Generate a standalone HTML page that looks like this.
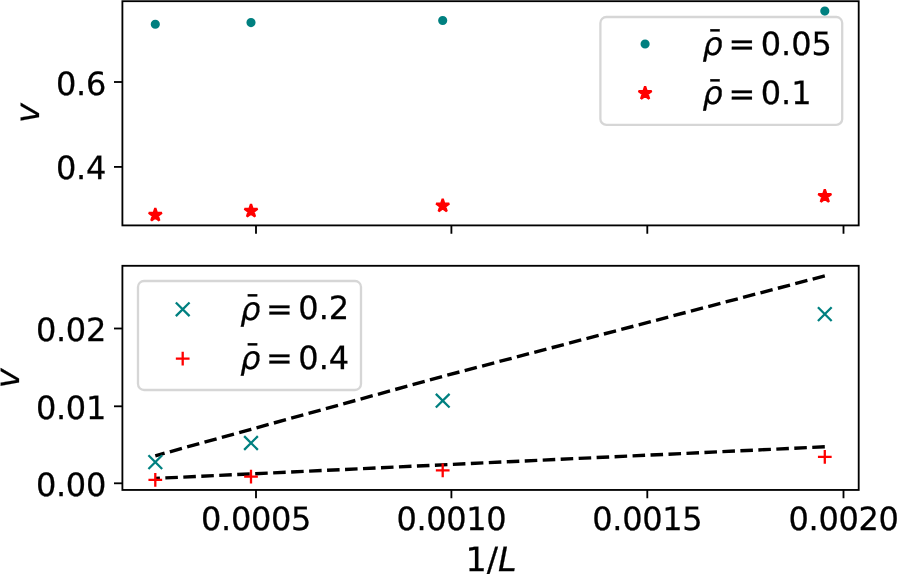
<!DOCTYPE html>
<html><head><meta charset="utf-8"><title>plot</title><style>html,body{margin:0;padding:0;background:#fff}svg{display:block}</style></head><body>
<svg width="897" height="574" viewBox="0 0 897 574" font-family="'DejaVu Sans', 'Liberation Sans', sans-serif" fill="#000"><style>text{stroke:#000;stroke-width:0.25px;text-rendering:geometricPrecision}</style>
<rect x="0" y="0" width="897" height="574" fill="#fff"/>
<circle cx="155.30" cy="24.20" r="3.43" fill="#008080" stroke="#008080" stroke-width="2.29"/>
<circle cx="251.00" cy="22.60" r="3.43" fill="#008080" stroke="#008080" stroke-width="2.29"/>
<circle cx="442.70" cy="20.50" r="3.43" fill="#008080" stroke="#008080" stroke-width="2.29"/>
<circle cx="824.80" cy="11.10" r="3.43" fill="#008080" stroke="#008080" stroke-width="2.29"/>
<polygon points="155.30,208.14 153.76,212.88 148.78,212.88 152.81,215.81 151.27,220.55 155.30,217.62 159.33,220.55 157.79,215.81 161.82,212.88 156.84,212.88" fill="#ff0000" stroke="#ff0000" stroke-width="2.29" stroke-linejoin="bevel"/>
<polygon points="251.00,204.14 249.46,208.88 244.48,208.88 248.51,211.81 246.97,216.55 251.00,213.62 255.03,216.55 253.49,211.81 257.52,208.88 252.54,208.88" fill="#ff0000" stroke="#ff0000" stroke-width="2.29" stroke-linejoin="bevel"/>
<polygon points="442.70,198.94 441.16,203.68 436.18,203.68 440.21,206.61 438.67,211.35 442.70,208.42 446.73,211.35 445.19,206.61 449.22,203.68 444.24,203.68" fill="#ff0000" stroke="#ff0000" stroke-width="2.29" stroke-linejoin="bevel"/>
<polygon points="824.80,189.44 823.26,194.18 818.28,194.18 822.31,197.11 820.77,201.85 824.80,198.92 828.83,201.85 827.29,197.11 831.32,194.18 826.34,194.18" fill="#ff0000" stroke="#ff0000" stroke-width="2.29" stroke-linejoin="bevel"/>
<path d="M824.80 275.9L442.70 376.4L251.00 429.3L155.30 455.8" stroke="#000" stroke-width="3.40" stroke-dasharray="12.56 5.43" fill="none"/>
<path d="M824.80 446.8L155.30 478.4" stroke="#000" stroke-width="3.40" stroke-dasharray="12.56 5.43" fill="none"/>
<path d="M148.44 455.24L162.16 468.96M148.44 468.96L162.16 455.24" stroke="#008080" stroke-width="2.29" fill="none"/>
<path d="M244.14 436.14L257.86 449.86M244.14 449.86L257.86 436.14" stroke="#008080" stroke-width="2.29" fill="none"/>
<path d="M435.84 393.84L449.56 407.56M435.84 407.56L449.56 393.84" stroke="#008080" stroke-width="2.29" fill="none"/>
<path d="M817.94 307.24L831.66 320.96M817.94 320.96L831.66 307.24" stroke="#008080" stroke-width="2.29" fill="none"/>
<path d="M148.44 479.80H162.16M155.30 472.94V486.66" stroke="#ff0000" stroke-width="2.29" fill="none"/>
<path d="M244.14 476.70H257.86M251.00 469.84V483.56" stroke="#ff0000" stroke-width="2.29" fill="none"/>
<path d="M435.84 470.30H449.56M442.70 463.44V477.16" stroke="#ff0000" stroke-width="2.29" fill="none"/>
<path d="M817.94 456.80H831.66M824.80 449.94V463.66" stroke="#ff0000" stroke-width="2.29" fill="none"/>
<rect x="122.4" y="1.2" width="736.30" height="224.20" fill="none" stroke="#000" stroke-width="1.83"/>
<rect x="122.4" y="265.8" width="736.30" height="224.15" fill="none" stroke="#000" stroke-width="1.83"/>
<path d="M256.00 225.4v8.40M256.00 489.95v8.40" stroke="#000" stroke-width="1.83"/>
<path d="M451.40 225.4v8.40M451.40 489.95v8.40" stroke="#000" stroke-width="1.83"/>
<path d="M647.30 225.4v8.40M647.30 489.95v8.40" stroke="#000" stroke-width="1.83"/>
<path d="M843.50 225.4v8.40M843.50 489.95v8.40" stroke="#000" stroke-width="1.83"/>
<text transform="translate(256.00,529.9) scale(1,1.0)" font-size="32.0" letter-spacing="-0.35" text-anchor="middle">0.0005</text>
<text transform="translate(451.40,529.9) scale(1,1.0)" font-size="32.0" letter-spacing="-0.35" text-anchor="middle">0.0010</text>
<text transform="translate(647.30,529.9) scale(1,1.0)" font-size="32.0" letter-spacing="-0.35" text-anchor="middle">0.0015</text>
<text transform="translate(843.50,529.9) scale(1,1.0)" font-size="32.0" letter-spacing="-0.35" text-anchor="middle">0.0020</text>
<path d="M122.4 82.0h-8.40" stroke="#000" stroke-width="1.83"/>
<text transform="translate(105.9,94.50) scale(1,1.0)" font-size="32.0" letter-spacing="-0.35" text-anchor="end">0.6</text>
<path d="M122.4 166.9h-8.40" stroke="#000" stroke-width="1.83"/>
<text transform="translate(105.9,179.40) scale(1,1.0)" font-size="32.0" letter-spacing="-0.35" text-anchor="end">0.4</text>
<path d="M122.4 483.3h-8.40" stroke="#000" stroke-width="1.83"/>
<text transform="translate(105.9,495.80) scale(1,1.0)" font-size="32.0" letter-spacing="-0.35" text-anchor="end">0.00</text>
<path d="M122.4 406.3h-8.40" stroke="#000" stroke-width="1.83"/>
<text transform="translate(105.9,418.80) scale(1,1.0)" font-size="32.0" letter-spacing="-0.35" text-anchor="end">0.01</text>
<path d="M122.4 328.5h-8.40" stroke="#000" stroke-width="1.83"/>
<text transform="translate(105.9,341.00) scale(1,1.0)" font-size="32.0" letter-spacing="-0.35" text-anchor="end">0.02</text>
<text x="491.0" y="571.0" font-size="33.4" text-anchor="middle">1/<tspan font-style="italic">L</tspan></text>
<text transform="translate(39.3,113.2) rotate(-90)" font-size="33.4" font-style="italic" text-anchor="middle">v</text>
<text transform="translate(19.1,378.3) rotate(-90)" font-size="33.4" font-style="italic" text-anchor="middle">v</text>
<rect x="600.4" y="17.0" width="241.80" height="107.90" rx="6" ry="6" fill="#fff" fill-opacity="0.8" stroke="#ccc" stroke-opacity="0.8" stroke-width="2.29"/>
<circle cx="645.10" cy="44.00" r="3.43" fill="#008080" stroke="#008080" stroke-width="2.29"/>
<text font-size="32.0"><tspan x="702.60" y="54.90" font-style="italic">ρ</tspan><tspan x="706.90" y="53.30">¯</tspan><tspan x="728.40" y="55.10">=</tspan></text><text transform="translate(760.70,54.80) scale(1,1.0)" font-size="32.0">0.05</text>
<polygon points="645.10,86.44 643.56,91.18 638.58,91.18 642.61,94.11 641.07,98.85 645.10,95.92 649.13,98.85 647.59,94.11 651.62,91.18 646.64,91.18" fill="#ff0000" stroke="#ff0000" stroke-width="2.29" stroke-linejoin="bevel"/>
<text font-size="32.0"><tspan x="702.60" y="104.30" font-style="italic">ρ</tspan><tspan x="706.90" y="102.70">¯</tspan><tspan x="728.40" y="104.50">=</tspan></text><text transform="translate(760.70,104.20) scale(1,1.0)" font-size="32.0">0.1</text>
<rect x="138.0" y="281.0" width="223.00" height="109.00" rx="6" ry="6" fill="#fff" fill-opacity="0.8" stroke="#ccc" stroke-opacity="0.8" stroke-width="2.29"/>
<path d="M175.84 302.44L189.56 316.16M175.84 316.16L189.56 302.44" stroke="#008080" stroke-width="2.29" fill="none"/>
<text font-size="32.0"><tspan x="240.20" y="319.50" font-style="italic">ρ</tspan><tspan x="244.50" y="317.90">¯</tspan><tspan x="266.00" y="319.70">=</tspan></text><text transform="translate(298.30,319.40) scale(1,1.0)" font-size="32.0">0.2</text>
<path d="M175.84 358.70H189.56M182.70 351.84V365.56" stroke="#ff0000" stroke-width="2.29" fill="none"/>
<text font-size="32.0"><tspan x="240.20" y="369.00" font-style="italic">ρ</tspan><tspan x="244.50" y="367.40">¯</tspan><tspan x="266.00" y="369.20">=</tspan></text><text transform="translate(298.30,368.90) scale(1,1.0)" font-size="32.0">0.4</text>
</svg>
</body></html>
